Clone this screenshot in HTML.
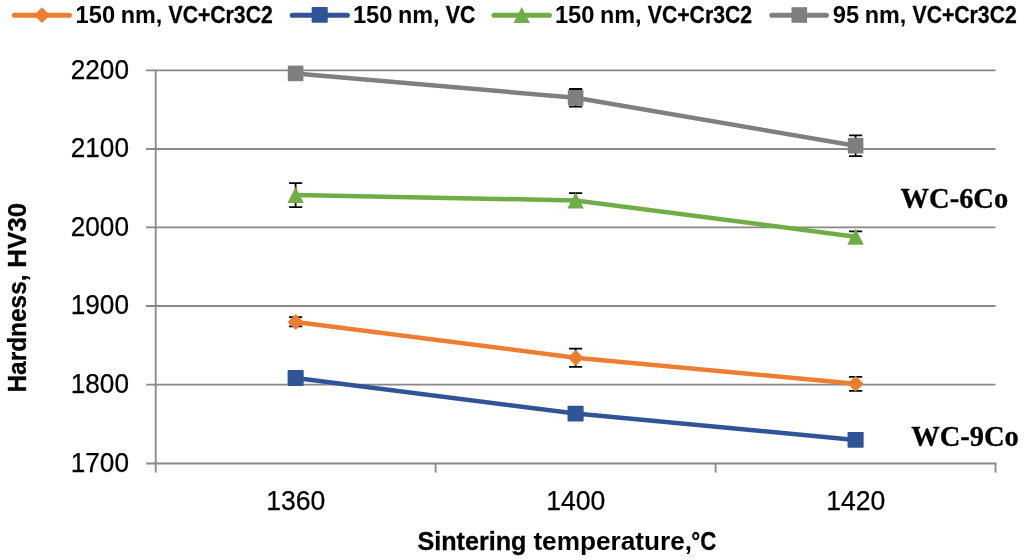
<!DOCTYPE html>
<html><head><meta charset="utf-8"><title>Hardness vs sintering temperature</title>
<style>
html,body{margin:0;padding:0;background:#fff;}
body{width:1024px;height:560px;overflow:hidden;}
svg{display:block;}
text{font-family:"Liberation Sans",sans-serif;fill:#000;}
.b{font-weight:bold;}
.serif{font-family:"Liberation Serif",serif;font-weight:bold;stroke:#000;stroke-width:0.3px;}
</style></head><body>
<svg width="1024" height="560" viewBox="0 0 1024 560">
<rect width="1024" height="560" fill="#fff"/>

<g stroke="#888888" stroke-width="1.8" fill="none">
<line x1="146.1" y1="70.3" x2="995.5" y2="70.3"/>
<line x1="146.1" y1="149.0" x2="995.5" y2="149.0"/>
<line x1="146.1" y1="227.35" x2="995.5" y2="227.35"/>
<line x1="146.1" y1="306.0" x2="995.5" y2="306.0"/>
<line x1="146.1" y1="384.7" x2="995.5" y2="384.7"/>
<line x1="146.1" y1="463.5" x2="996.4" y2="463.5"/>
<line x1="155.7" y1="70.3" x2="155.7" y2="472.6"/>
<line x1="435.6" y1="463.5" x2="435.6" y2="472.6"/>
<line x1="715.6" y1="463.5" x2="715.6" y2="472.6"/>
<line x1="995.5" y1="463.5" x2="995.5" y2="472.6"/>
</g>
<polyline points="295.6,73.4 575.6,97.8 855.6,145.7" fill="none" stroke="#7f7f7f" stroke-width="4.5" stroke-linejoin="round" stroke-linecap="round"/>
<polyline points="295.6,195.1 575.6,200.4 855.6,236.7" fill="none" stroke="#70ad47" stroke-width="4.5" stroke-linejoin="round" stroke-linecap="round"/>
<polyline points="295.6,321.9 575.6,357.7 855.6,383.8" fill="none" stroke="#ed7d31" stroke-width="4.5" stroke-linejoin="round" stroke-linecap="round"/>
<polyline points="295.6,378.0 575.6,413.6 855.6,439.9" fill="none" stroke="#2f5597" stroke-width="4.5" stroke-linejoin="round" stroke-linecap="round"/>
<g stroke="#000" stroke-width="1.8" fill="none">
<path d="M575.6 89.00V106.70M569.0 89.00H582.2M569.0 106.70H582.2"/>
<path d="M855.6 135.30V156.10M849.0 135.30H862.2M849.0 156.10H862.2"/>
<path d="M295.6 183.10V207.10M289.0 183.10H302.2M289.0 207.10H302.2"/>
<path d="M575.6 193.05V207.00M569.0 193.05H582.2M569.0 207.00H582.2"/>
<path d="M855.6 231.35V241.95M849.0 231.35H862.2M849.0 241.95H862.2"/>
<path d="M295.6 317.15V326.35M289.0 317.15H302.2M289.0 326.35H302.2"/>
<path d="M575.6 348.55V366.85M569.0 348.55H582.2M569.0 366.85H582.2"/>
<path d="M855.6 376.80V390.80M849.0 376.80H862.2M849.0 390.80H862.2"/>
</g>
<rect x="287.8" y="65.6" width="15.6" height="15.6" fill="#7f7f7f"/>
<rect x="567.8" y="90.0" width="15.6" height="15.6" fill="#7f7f7f"/>
<rect x="847.8" y="137.9" width="15.6" height="15.6" fill="#7f7f7f"/>
<polygon points="295.6,187.1 303.8,203.1 287.4,203.1" fill="#70ad47"/>
<polygon points="575.6,192.4 583.8,208.4 567.4,208.4" fill="#70ad47"/>
<polygon points="855.6,228.7 863.8,244.7 847.4,244.7" fill="#70ad47"/>
<polygon points="295.6,313.9 303.6,321.9 295.6,329.9 287.6,321.9" fill="#ed7d31"/>
<polygon points="575.6,349.7 583.6,357.7 575.6,365.7 567.6,357.7" fill="#ed7d31"/>
<polygon points="855.6,375.8 863.6,383.8 855.6,391.8 847.6,383.8" fill="#ed7d31"/>
<rect x="287.60" y="370.10" width="16.1" height="15.8" rx="0.8" fill="#2f5597"/>
<rect x="567.55" y="405.70" width="16.1" height="15.8" rx="0.8" fill="#2f5597"/>
<rect x="847.55" y="432.00" width="16.1" height="15.8" rx="0.8" fill="#2f5597"/>
<line x1="14.51" y1="15.2" x2="69.35" y2="15.2" stroke="#ed7d31" stroke-width="5.1" stroke-linecap="round"/>
<polygon points="42.0,7.2 50.0,15.2 42.0,23.1 34.0,15.2" fill="#ed7d31"/>
<line x1="292.31" y1="15.2" x2="347.35" y2="15.2" stroke="#2f5597" stroke-width="5.1" stroke-linecap="round"/>
<rect x="311.65" y="7.00" width="16.1" height="15.8" rx="0.8" fill="#2f5597"/>
<line x1="494.10" y1="15.2" x2="549.35" y2="15.2" stroke="#70ad47" stroke-width="5.1" stroke-linecap="round"/>
<polygon points="521.7,6.9 529.9,22.9 513.5,22.9" fill="#70ad47"/>
<line x1="771.85" y1="15.2" x2="826.35" y2="15.2" stroke="#7f7f7f" stroke-width="5.1" stroke-linecap="round"/>
<rect x="791.5" y="7.2" width="15.6" height="15.6" fill="#7f7f7f"/>
<text stroke="#000" stroke-width="0.25" x="70.77" y="78.6" font-size="27" textLength="58.18" lengthAdjust="spacingAndGlyphs">2200</text>
<text stroke="#000" stroke-width="0.25" x="70.77" y="157.3" font-size="27" textLength="58.18" lengthAdjust="spacingAndGlyphs">2100</text>
<text stroke="#000" stroke-width="0.25" x="70.77" y="235.7" font-size="27" textLength="58.18" lengthAdjust="spacingAndGlyphs">2000</text>
<text stroke="#000" stroke-width="0.25" x="70.77" y="314.3" font-size="27" textLength="58.18" lengthAdjust="spacingAndGlyphs">1900</text>
<text stroke="#000" stroke-width="0.25" x="70.77" y="393.0" font-size="27" textLength="58.18" lengthAdjust="spacingAndGlyphs">1800</text>
<text stroke="#000" stroke-width="0.25" x="70.77" y="471.8" font-size="27" textLength="58.18" lengthAdjust="spacingAndGlyphs">1700</text>
<text stroke="#000" stroke-width="0.25" x="266.29" y="510.0" font-size="27" textLength="59.12" lengthAdjust="spacingAndGlyphs">1360</text>
<text stroke="#000" stroke-width="0.25" x="546.24" y="510.0" font-size="27" textLength="59.12" lengthAdjust="spacingAndGlyphs">1400</text>
<text stroke="#000" stroke-width="0.25" x="826.24" y="510.0" font-size="27" textLength="59.12" lengthAdjust="spacingAndGlyphs">1420</text>
<text class="b" x="75.62" y="22.9" font-size="23.7" textLength="39.54" lengthAdjust="spacingAndGlyphs">150</text>
<text class="b" x="120.69" y="22.9" font-size="23.7" textLength="41.59" lengthAdjust="spacingAndGlyphs">nm,</text>
<text class="b" stroke="#000" stroke-width="0.3" x="168.50" y="22.9" font-size="23.7" textLength="104.23" lengthAdjust="spacingAndGlyphs">VC+Cr3C2</text>
<text class="b" x="554.92" y="22.9" font-size="23.7" textLength="39.54" lengthAdjust="spacingAndGlyphs">150</text>
<text class="b" x="599.99" y="22.9" font-size="23.7" textLength="41.59" lengthAdjust="spacingAndGlyphs">nm,</text>
<text class="b" stroke="#000" stroke-width="0.3" x="647.80" y="22.9" font-size="23.7" textLength="104.23" lengthAdjust="spacingAndGlyphs">VC+Cr3C2</text>
<text class="b" x="352.92" y="22.9" font-size="23.7" textLength="39.54" lengthAdjust="spacingAndGlyphs">150</text>
<text class="b" x="397.99" y="22.9" font-size="23.7" textLength="41.59" lengthAdjust="spacingAndGlyphs">nm,</text>
<text class="b" stroke="#000" stroke-width="0.3" x="445.80" y="22.9" font-size="23.7" textLength="29.66" lengthAdjust="spacingAndGlyphs">VC</text>
<text class="b" x="832.81" y="22.9" font-size="23.7" textLength="26.33" lengthAdjust="spacingAndGlyphs">95</text>
<text class="b" x="864.74" y="22.9" font-size="23.7" textLength="41.54" lengthAdjust="spacingAndGlyphs">nm,</text>
<text class="b" stroke="#000" stroke-width="0.3" x="912.50" y="22.9" font-size="23.7" textLength="104.23" lengthAdjust="spacingAndGlyphs">VC+Cr3C2</text>
<text class="b" stroke="#000" stroke-width="0.3" x="417.41" y="549.5" font-size="26.7" textLength="109.00" lengthAdjust="spacingAndGlyphs">Sintering</text>
<text class="b" x="533.40" y="549.5" font-size="26.7" textLength="158.65" lengthAdjust="spacingAndGlyphs">temperature,</text>
<text class="b" stroke="#000" stroke-width="0.3" x="691.30" y="549.5" font-size="26.7" textLength="25.02" lengthAdjust="spacingAndGlyphs">°C</text>
<text class="serif" x="900.60" y="208.2" font-size="29.5" textLength="107.59" lengthAdjust="spacingAndGlyphs">WC-6Co</text>
<text class="serif" x="911.20" y="445.6" font-size="29.5" textLength="107.59" lengthAdjust="spacingAndGlyphs">WC-9Co</text>
<text class="b" stroke="#000" stroke-width="0.3" transform="translate(25.9 392.53) rotate(-90)" font-size="26.7" textLength="118.07" lengthAdjust="spacingAndGlyphs">Hardness,</text>
<text class="b" stroke="#000" stroke-width="0.3" transform="translate(25.9 267.72) rotate(-90)" font-size="26.7" textLength="64.77" lengthAdjust="spacingAndGlyphs">HV30</text>
</svg></body></html>
